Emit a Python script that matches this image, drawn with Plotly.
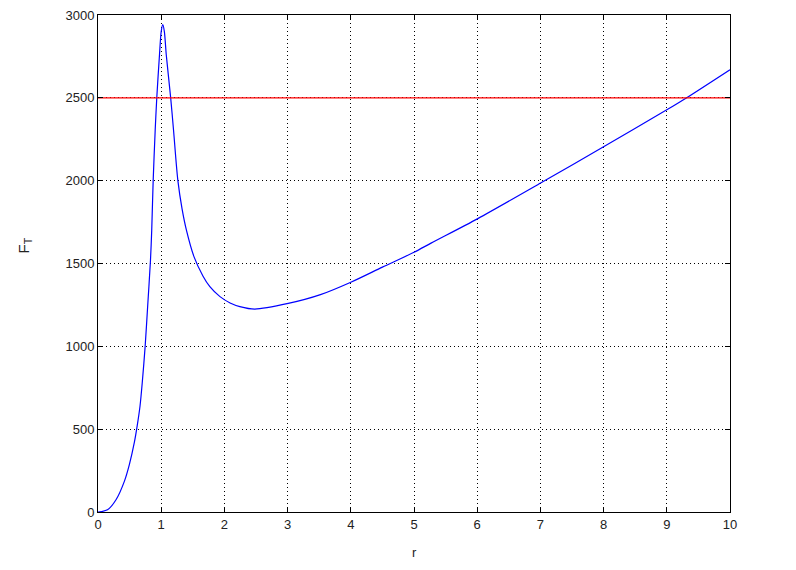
import plotly.graph_objects as go

r_vals = [0, 0.05, 0.15, 0.285, 0.417, 0.496, 0.575, 0.62, 0.665, 0.70, 0.746, 0.787, 0.83,
          0.85, 0.873, 0.905, 0.93, 0.973, 1.0, 1.025, 1.05, 1.08, 1.15, 1.195, 1.264, 1.33,
          1.40, 1.52, 1.66, 1.77, 1.93, 2.09, 2.245, 2.48, 3.01, 3.52, 4.0, 4.5, 5.0, 5.27,
          6.01, 7.01, 8.02, 9.02, 9.27, 10.0]
F_vals = [0, 2, 13, 74, 185, 286, 420, 520, 640, 780, 1000, 1250, 1518,
          1700, 2000, 2306, 2500, 2760, 2900, 2942, 2900, 2760, 2500, 2306, 2000, 1830,
          1700, 1540, 1425, 1360, 1300, 1262, 1240, 1225, 1259, 1312, 1387, 1478, 1568, 1623,
          1771, 1987, 2209, 2432, 2490, 2670]

# Reference level
ref_r = [0, 10]
ref_F = [2500, 2500]

x_ticks = [0, 1, 2, 3, 4, 5, 6, 7, 8, 9, 10]
y_ticks = [0, 500, 1000, 1500, 2000, 2500, 3000]

fig = go.Figure()
fig.add_trace(go.Scatter(x=r_vals, y=F_vals, mode="lines",
                         line=dict(color="#0000ff", width=1.2, shape="spline", smoothing=0.8),
                         showlegend=False, hoverinfo="skip"))
fig.add_trace(go.Scatter(x=ref_r, y=ref_F, mode="lines",
                         line=dict(color="#ff0000", width=1.2),
                         showlegend=False, hoverinfo="skip"))

axis_common = dict(
    showline=True, linecolor="black", linewidth=1, mirror="allticks",
    ticks="inside", ticklen=5, tickcolor="black", tickwidth=1,
    showgrid=True, gridcolor="black", gridwidth=1, griddash="1px,3px",
    zeroline=False, tickfont=dict(family="Liberation Sans, Arial, sans-serif", size=13, color="#222222"),
)

fig.update_xaxes(range=[0, 10], tickvals=x_ticks, ticktext=[str(t) for t in x_ticks], **axis_common)
fig.update_yaxes(range=[0, 3000], tickvals=y_ticks, ticktext=[str(t) for t in y_ticks], **axis_common)

fig.update_layout(
    width=796, height=570,
    margin=dict(l=98, r=66, t=15, b=58, autoexpand=False),
    paper_bgcolor="white", plot_bgcolor="white",
    annotations=[
        dict(text="r", xref="paper", yref="paper", x=0.5, y=0, yshift=-40,
             showarrow=False, xanchor="center", yanchor="middle",
             font=dict(family="Liberation Sans, Arial, sans-serif", size=13, color="#222222")),
        dict(text="F<sub>T</sub>", xref="paper", yref="paper", x=0, y=0.5, xshift=-74, yshift=18,
             showarrow=False, xanchor="center", yanchor="middle", textangle=-90,
             font=dict(family="Liberation Sans, Arial, sans-serif", size=15, color="#222222")),
    ],
)

fig.write_html("out.html",
               config={"displayModeBar": False},
               post_script="document.body.style.margin='0';document.body.style.overflow='hidden';")
